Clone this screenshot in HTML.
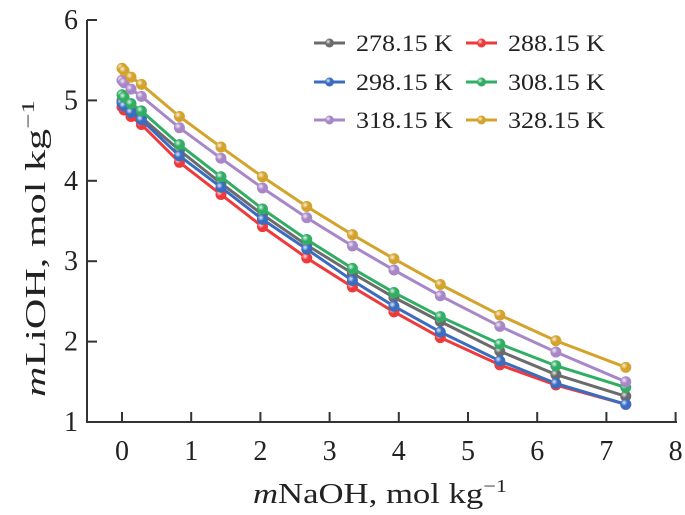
<!DOCTYPE html>
<html><head><meta charset="utf-8"><style>
body{margin:0;background:#fff}
svg{display:block;font-family:"Liberation Serif",serif}
</style></head><body>
<svg id="chart" width="685" height="515" viewBox="0 0 685 515">
<defs>
<radialGradient id="hl" cx="0.35" cy="0.35" r="0.6"><stop offset="0" stop-color="#fff" stop-opacity="0.85"/><stop offset="0.5" stop-color="#fff" stop-opacity="0"/></radialGradient>
</defs>
<g id="axes"></g>
<g id="series"></g>
<g id="legend"></g>
<text x="253" y="503" font-size="28" textLength="254" lengthAdjust="spacingAndGlyphs" fill="#222"><tspan font-style="italic">m</tspan>NaOH, mol kg<tspan font-size="18" dy="-11">−1</tspan></text>
<text transform="translate(45,397) rotate(-90)" font-size="28" textLength="297" lengthAdjust="spacingAndGlyphs" fill="#222"><tspan font-style="italic">m</tspan>LiOH, mol kg<tspan font-size="18" dy="-11">−1</tspan></text>
</svg>
<script>
const xValues=[0,0.03,0.13,0.28,0.83,1.43,2.03,2.67,3.33,3.93,4.6,5.46,6.27,7.28];
const seriesNames=["278.15 K","288.15 K","298.15 K","308.15 K","318.15 K","328.15 K"];
const s278=[5.0,4.97,4.89,4.79,4.38,3.97,3.58,3.20,2.85,2.55,2.25,1.88,1.59,1.32];
const s288=[4.92,4.88,4.80,4.70,4.23,3.83,3.43,3.04,2.68,2.37,2.05,1.71,1.46,1.22];
const s298=[4.97,4.93,4.85,4.76,4.31,3.92,3.52,3.15,2.76,2.44,2.12,1.76,1.48,1.22];
const s308=[5.07,5.04,4.96,4.87,4.45,4.05,3.65,3.27,2.91,2.61,2.31,1.97,1.70,1.43];
const s318=[5.25,5.22,5.14,5.05,4.66,4.28,3.91,3.54,3.19,2.89,2.57,2.19,1.87,1.50];
const s328=[5.40,5.37,5.29,5.20,4.80,4.42,4.05,3.68,3.33,3.03,2.71,2.33,2.01,1.68];
const xTicks=[0,1,2,3,4,5,6,7,8];
const yTicks=[1,2,3,4,5,6];
const colors=["#6b6b6b","#ee3a3a","#3a6cc0","#2fae64","#a887c8","#d4a32c"];
const allSeries=[s278,s288,s298,s308,s318,s328];
const NS="http://www.w3.org/2000/svg";
const X=v=>122+v*69.2, Y=v=>422-(v-1)*80.4;
function mk(tag,attrs,parent){const e=document.createElementNS(NS,tag);for(const k in attrs)e.setAttribute(k,attrs[k]);parent.appendChild(e);return e;}
const ax=document.getElementById('axes');
let l=mk('path',{d:`M87 20 V422 H677`,fill:'none',stroke:'#333','stroke-width':2},ax);


xTicks.forEach(t=>{
 const tk=mk('line',{x1:X(t),x2:X(t),y1:422,y2:412,stroke:'#333','stroke-width':2},ax);
 
 
 const tx=mk('text',{x:X(t),y:460,'font-size':28,'text-anchor':'middle',fill:'#222'},ax);tx.textContent=t;
 
 
});
yTicks.forEach(t=>{
 const tk=mk('line',{x1:87,x2:97,y1:Y(t),y2:Y(t),stroke:'#333','stroke-width':2},ax);
 
 
 const tx=mk('text',{x:78,y:Y(t)+9,'font-size':28,'text-anchor':'end',fill:'#222'},ax);tx.textContent=t;
 
 
});
const sg=document.getElementById('series');
function marker(x,y,c,p,r){
 const g=mk('g',{},p);
 mk('circle',{cx:x,cy:y,r:r,fill:c},g);
 mk('circle',{cx:x,cy:y,r:r,fill:'url(#hl)'},g);
 return g;
}
allSeries.forEach((s,i)=>{
 const g=mk('g',{},sg);
 
 
 const pl=mk('polyline',{points:s.map((v,j)=>X(xValues[j])+','+Y(v)).join(' '),fill:'none',stroke:colors[i],'stroke-width':3},g);
 
 
 s.forEach((v,j)=>{const m=marker(X(xValues[j]),Y(v),colors[i],g,5.5);
  
  });
});
const lg=document.getElementById('legend');
seriesNames.forEach((n,i)=>{
 const col=i%2,row=Math.floor(i/2);
 const x0=314+col*152,y0=[43,82,120][row];
 const g=mk('g',{},lg);
 
 
 mk('line',{x1:x0,x2:x0+31,y1:y0,y2:y0,stroke:colors[i],'stroke-width':3},g);
 marker(x0+15.5,y0,colors[i],g,4.5);
 const t=mk('text',{x:x0+42,y:y0+8,'font-size':23,fill:'#222',textLength:97,lengthAdjust:'spacingAndGlyphs'},g);t.textContent=n;
});
</script>
</body></html>
